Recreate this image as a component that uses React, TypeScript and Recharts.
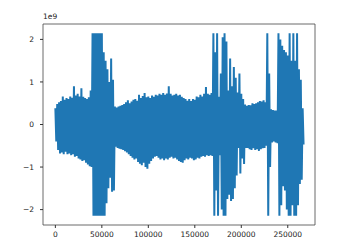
import { LineChart, Line, XAxis, YAxis, ReferenceArea } from "recharts"

// envelope of the signal, read every 2000 samples (values in units of 1e9)
const upper = [
  0.38, 0.48, 0.52, 0.55, 0.66, 0.58, 0.62, 0.6, 0.66, 0.63, 0.9, 0.68, 0.72, 0.66, 0.85, 0.65, 0.62, 0.6, 0.64, 0.8,
  2.147, 2.147, 2.147, 2.147, 2.147, 2.147, 1.7, 1.5, 1.3, 1.0, 1.55, 1.05,
  0.42, 0.4, 0.42, 0.44, 0.46, 0.48, 0.52, 0.57, 0.5, 0.54,
  0.58, 0.6, 0.56, 0.7, 0.62, 0.67, 0.74, 0.64, 0.66, 0.62,
  0.68, 0.65, 0.7, 0.68, 0.72, 0.7, 0.74, 0.7, 0.73, 0.9,
  0.72, 0.68, 0.7, 0.72, 0.68, 0.7, 0.65, 0.62, 0.6, 0.56,
  0.6, 0.55, 0.6, 0.58, 0.66, 0.64, 0.7, 0.66, 0.72, 0.88,
  0.72, 0.7, 0.74,
  2.147, 1.7, 2.147, 0.65, 1.2, 2.05, 2.147, 1.95, 0.8, 1.55, 0.9, 1.35, 1.1, 0.75, 1.2, 0.72, 0.6, 0.47,
  0.44, 0.46, 0.45, 0.5, 0.48, 0.5, 0.52, 0.55, 0.54, 0.57, 0.52, 2.147, 1.2,
  0.36, 0.34, 0.33, 0.33, 2.147, 2.0, 1.85, 1.75, 1.7, 1.62, 2.147, 1.5, 2.147, 1.5, 2.147, 1.3, 1.05, 0.38,
]

const lower = [
  -0.4, -0.6, -0.68, -0.66, -0.7, -0.64, -0.7, -0.68, -0.72, -0.7, -0.76, -0.74, -0.8, -0.82, -0.86, -0.84, -0.9, -0.94, -0.98, -1.0,
  -2.147, -2.147, -2.147, -2.147, -2.147, -2.147, -2.147, -1.85, -1.5, -1.25, -1.58, -1.55,
  -0.52, -0.55, -0.57, -0.58, -0.6, -0.63, -0.66, -0.7, -0.74, -0.78,
  -0.82, -0.8, -0.88, -0.92, -0.96, -0.9, -1.0, -1.04, -0.92, -0.86,
  -0.8, -0.76, -0.74, -0.78, -0.82, -0.8, -0.84, -0.8, -0.82, -0.78,
  -0.76, -0.8, -0.78, -0.82, -0.86, -0.88, -0.9, -0.84, -0.8, -0.82,
  -0.78, -0.8, -0.84, -0.82, -0.78, -0.8, -0.76, -0.74, -0.76, -0.72,
  -0.74, -0.72, -0.74,
  -2.147, -1.55, -2.147, -0.72, -2.0, -2.147, -2.147, -1.75, -1.65, -1.8, -1.75, -1.5, -1.2, -0.55, -1.15, -0.8, -0.93, -0.55,
  -0.55, -0.58, -0.6, -0.56, -0.6, -0.58, -0.62, -0.58, -0.56, -0.55, -0.5, -2.147, -1.0,
  -0.42, -0.4, -0.42, -0.44, -2.147, -1.9, -1.45, -1.55, -2.0, -2.147, -2.147, -1.9, -2.147, -2.147, -1.9, -1.4, -1.3, -0.47,
]

const sampleStep = 2000
const xTicks = [0, 50000, 100000, 150000, 200000, 250000]
const yTicks = [-2, -1, 0, 1, 2]
const xDomain: [number, number] = [-13300, 279300]
const yDomain: [number, number] = [-2.362, 2.362]

// alternate top/bottom so the line fills the band like the dense waveform
const data: { n: number; v: number }[] = []
upper.forEach((u, i) => {
  data.push({ n: i * sampleStep, v: u })
  data.push({ n: i * sampleStep + sampleStep / 2, v: lower[i] })
})

const font = "'DejaVu Sans', sans-serif"
const fmtY = (v: number) => (v < 0 ? `\u2212${-v}` : `${v}`)

export default function App() {
  return (
    <div style={{ position: "absolute", left: 0, top: 0, width: 350, height: 251, background: "#fff" }}>
      <div style={{ position: "absolute", left: 43, top: 12, fontFamily: font, fontSize: 7.5, color: "#222" }}>
        1e9
      </div>
      <LineChart width={350} height={251} data={data} margin={{ top: 24, right: 35, bottom: 0, left: 0 }}>
        <XAxis
          dataKey="n"
          type="number"
          domain={xDomain}
          ticks={xTicks}
          allowDataOverflow
          height={26}
          axisLine={false}
          tickSize={3}
          tickMargin={4}
          tickLine={{ stroke: "#333" }}
          tick={{ fontSize: 7.5, fill: "#222", fontFamily: font }}
          interval={0}
        />
        <YAxis
          type="number"
          domain={yDomain}
          ticks={yTicks}
          allowDataOverflow
          width={43}
          axisLine={false}
          tickSize={3}
          tickMargin={6}
          tickLine={{ stroke: "#333" }}
          tick={{ fontSize: 7.5, fill: "#222", fontFamily: font }}
          tickFormatter={fmtY}
          interval={0}
        />
        <Line
          type="linear"
          dataKey="v"
          stroke="#1f77b4"
          strokeWidth={2}
          strokeLinejoin="miter"
          dot={false}
          isAnimationActive={false}
        />
        <ReferenceArea
          x1={xDomain[0]}
          x2={xDomain[1]}
          y1={yDomain[0]}
          y2={yDomain[1]}
          fill="none"
          fillOpacity={0}
          stroke="#444"
          strokeWidth={0.8}
        />
      </LineChart>
    </div>
  )
}
